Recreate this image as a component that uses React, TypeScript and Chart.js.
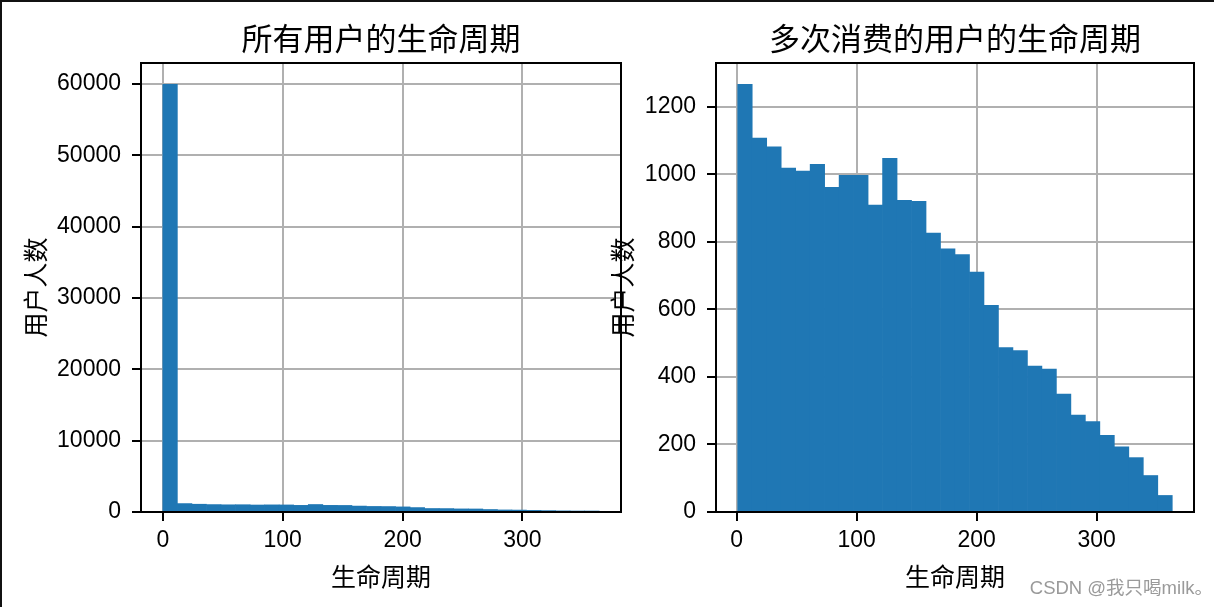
import React, { useEffect, useRef } from "react";
import { Chart, registerables } from "chart.js";

Chart.register(...registerables);

// ---------- data ----------
const allTitle = "所有用户的生命周期";
const multiTitle = "多次消费的用户的生命周期";
const xLabel = "生命周期";
const yLabel = "用户人数";
const watermark = "CSDN @我只喝milk。";

// histogram bin ranges (days)
const allBinRange = [0, 364];
const multiBinRange = [1, 363];

// 30 bins each
const allCounts = [
  59930, 1180, 1090, 1040, 1010, 1020, 980, 1000, 990, 930,
  1050, 930, 920, 830, 780, 765, 715, 620, 490, 480,
  435, 425, 350, 290, 270, 228, 195, 160, 90, 40,
];
const multiCounts = [
  1266, 1107, 1081, 1018, 1009, 1029, 961, 997, 997, 909,
  1047, 923, 920, 826, 779, 762, 710, 612, 487, 478,
  432, 423, 349, 287, 268, 227, 193, 161, 108, 49,
];

const xTicks = [0, 100, 200, 300];
const allYTicks = [0, 10000, 20000, 30000, 40000, 50000, 60000];
const multiYTicks = [0, 200, 400, 600, 800, 1000, 1200];

// ---------- layout ----------
const W = 1214;
const H = 607;
const BAR = "#1f77b4";
const GRID = "#b0b0b0";
const CJK = '"Noto Sans CJK SC", "Noto Sans", sans-serif';
const NUM = '"Liberation Sans", Arial, sans-serif';

const frameTitle = {
  id: "frameTitle",
  afterDraw(chart: any, _args: any, opts: any) {
    const { ctx, chartArea: a } = chart;
    ctx.save();
    ctx.strokeStyle = "#000";
    ctx.lineWidth = 2;
    ctx.strokeRect(a.left, a.top, a.right - a.left, a.bottom - a.top);
    ctx.fillStyle = "#000";
    ctx.font = `31px ${CJK}`;
    ctx.textAlign = "center";
    ctx.textBaseline = "middle";
    ctx.fillText(opts.text, (a.left + a.right) / 2, 38);
    ctx.restore();
  },
};

type Area = { left: number; right: number; top: number; bottom: number };

function buildConfig(p: {
  counts: number[];
  range: number[];
  yTicks: number[];
  title: string;
  area: Area;
  padLeft: number;
  yTitlePad: number;
}): any {
  const n = p.counts.length;
  const [lo, hi] = p.range;
  const bw = (hi - lo) / n;
  const span = hi - lo;
  const data = p.counts.map((c, i) => ({ x: lo + (i + 0.5) * bw, y: c }));
  const yMax = Math.max(...p.counts) * 1.05;
  const gridOpts = {
    color: GRID,
    lineWidth: 2,
    drawTicks: true,
    tickLength: 9,
    tickColor: "#000",
    tickWidth: 2,
    offset: false,
  };
  return {
    type: "bar",
    data: {
      datasets: [
        {
          data,
          backgroundColor: BAR,
          borderWidth: 0,
          barPercentage: 1,
          categoryPercentage: 1,
        },
      ],
    },
    options: {
      animation: false,
      responsive: false,
      devicePixelRatio: 1,
      events: [],
      layout: {
        padding: {
          left: p.padLeft,
          right: W - p.area.right,
          top: p.area.top,
          bottom: 0,
        },
      },
      plugins: {
        legend: { display: false },
        tooltip: { enabled: false },
        title: { display: false },
        frameTitle: { text: p.title },
      },
      scales: {
        x: {
          type: "linear",
          min: lo - 0.05 * span,
          max: hi + 0.05 * span,
          offset: false,
          z: 1,
          afterBuildTicks: (s: any) => {
            s.ticks = xTicks.map((v) => ({ value: v }));
          },
          afterFit: (s: any) => {
            s.height = H - p.area.bottom;
          },
          grid: gridOpts,
          border: { display: false },
          ticks: {
            color: "#000",
            font: { family: NUM, size: 23 },
            padding: 6,
            maxRotation: 0,
            autoSkip: false,
            callback: (v: any) => String(v),
          },
          title: {
            display: true,
            text: xLabel,
            color: "#000",
            font: { family: CJK, size: 25, lineHeight: 1.2 },
            padding: { top: 0, bottom: 16 },
          },
        },
        y: {
          type: "linear",
          min: 0,
          max: yMax,
          z: 1,
          afterBuildTicks: (s: any) => {
            s.ticks = p.yTicks.map((v) => ({ value: v }));
          },
          afterFit: (s: any) => {
            s.width = p.area.left - p.padLeft;
          },
          grid: gridOpts,
          border: { display: false },
          ticks: {
            color: "#000",
            font: { family: NUM, size: 23 },
            padding: 11,
            autoSkip: false,
            callback: (v: any) => String(v),
          },
          title: {
            display: true,
            text: yLabel,
            color: "#000",
            font: { family: CJK, size: 25, lineHeight: 1.2 },
            padding: { top: p.yTitlePad, bottom: 0 },
          },
        },
      },
    },
    plugins: [frameTitle],
  };
}

export default function App() {
  const leftRef = useRef<HTMLCanvasElement>(null);
  const rightRef = useRef<HTMLCanvasElement>(null);

  useEffect(() => {
    const c1 = new Chart(
      leftRef.current!,
      buildConfig({
        counts: allCounts,
        range: allBinRange,
        yTicks: allYTicks,
        title: allTitle,
        area: { left: 141, right: 621, top: 63, bottom: 512 },
        padLeft: 0,
        yTitlePad: 20,
      })
    );
    const c2 = new Chart(
      rightRef.current!,
      buildConfig({
        counts: multiCounts,
        range: multiBinRange,
        yTicks: multiYTicks,
        title: multiTitle,
        area: { left: 716, right: 1194, top: 63, bottom: 512 },
        padLeft: 607,
        yTitlePad: 0,
      })
    );
    return () => {
      c1.destroy();
      c2.destroy();
    };
  }, []);

  return (
    <div
      style={{
        position: "fixed",
        left: 0,
        top: 0,
        width: W,
        height: H,
        background: "#fff",
        overflow: "hidden",
      }}
    >
      <canvas
        ref={leftRef}
        width={W}
        height={H}
        style={{ position: "absolute", left: 0, top: 0 }}
      />
      <canvas
        ref={rightRef}
        width={W}
        height={H}
        style={{ position: "absolute", left: 0, top: 0 }}
      />
      <div
        style={{ position: "absolute", left: 0, top: 0, width: W, height: 2, background: "#111" }}
      />
      <div
        style={{ position: "absolute", left: 0, top: 0, width: 2, height: H, background: "#111" }}
      />
      <div
        style={{
          position: "absolute",
          right: 1,
          top: 577,
          fontFamily: `${NUM}, ${CJK}`,
          fontSize: 18.5,
          lineHeight: "22px",
          color: "#9a9a9a",
          whiteSpace: "nowrap",
        }}
      >
        {watermark}
      </div>
    </div>
  );
}
